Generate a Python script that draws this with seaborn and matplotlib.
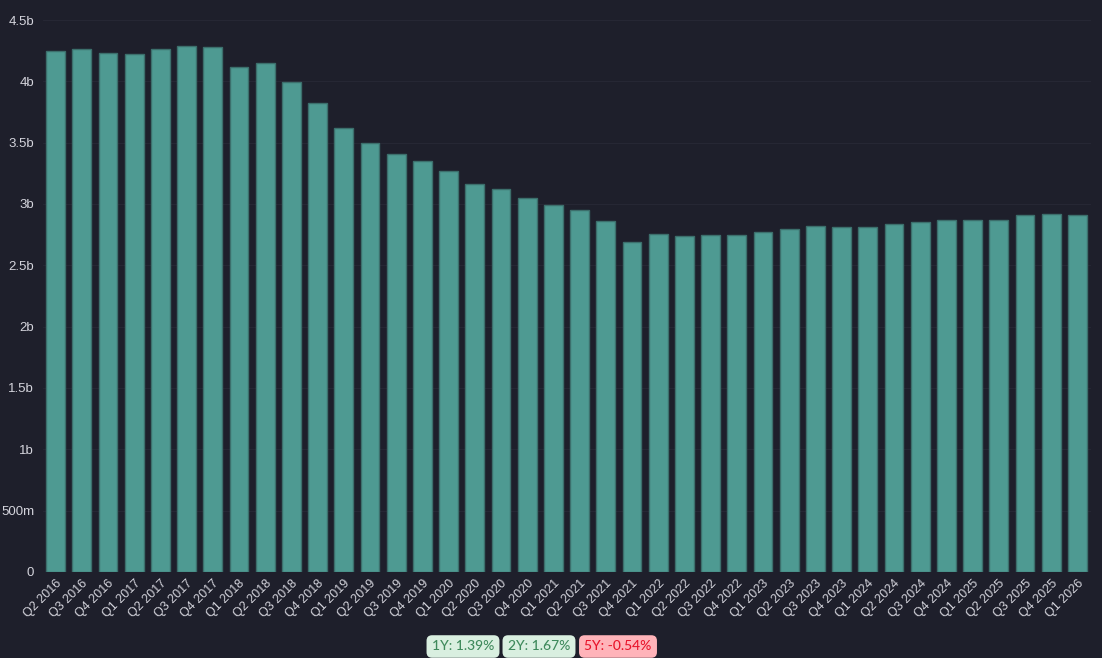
import matplotlib
matplotlib.use("Agg")
import matplotlib.pyplot as plt
import seaborn as sns
import pandas as pd
from matplotlib.ticker import FuncFormatter

# quarterly values, in billions
quarters = ["Q2 2016", "Q3 2016", "Q4 2016",
            "Q1 2017", "Q2 2017", "Q3 2017", "Q4 2017",
            "Q1 2018", "Q2 2018", "Q3 2018", "Q4 2018",
            "Q1 2019", "Q2 2019", "Q3 2019", "Q4 2019",
            "Q1 2020", "Q2 2020", "Q3 2020", "Q4 2020",
            "Q1 2021", "Q2 2021", "Q3 2021", "Q4 2021",
            "Q1 2022", "Q2 2022", "Q3 2022", "Q4 2022",
            "Q1 2023", "Q2 2023", "Q3 2023", "Q4 2023",
            "Q1 2024", "Q2 2024", "Q3 2024", "Q4 2024",
            "Q1 2025", "Q2 2025", "Q3 2025", "Q4 2025",
            "Q1 2026"]
values_b = [4.244, 4.26, 4.23, 4.22, 4.26, 4.287, 4.28,
            4.12, 4.146, 3.996, 3.82,
            3.616, 3.50, 3.407, 3.347,
            3.268, 3.16, 3.124, 3.05,
            2.988, 2.948, 2.858, 2.69,
            2.752, 2.738, 2.744, 2.744,
            2.774, 2.793, 2.82, 2.814,
            2.814, 2.834, 2.85, 2.866,
            2.871, 2.869, 2.91, 2.92,
            2.912]
badge_labels = ["1Y: 1.39%", "2Y: 1.67%", "5Y: -0.54%"]
badge_good = [True, True, False]

bg = "#1e1f2b"
bar_color = "#4e9a92"
text_color = "#d4d4dc"

sns.set_theme(style="dark")
plt.rcParams["font.family"] = ["Liberation Sans", "DejaVu Sans"]

df = pd.DataFrame({"quarter": quarters, "value": [v * 1e9 for v in values_b]})

fig = plt.figure(figsize=(11.02, 6.58), dpi=100, facecolor=bg)
ax = fig.add_axes([42.5 / 1102, 1 - 572 / 658, 1048 / 1102, 552 / 658])
ax.set_facecolor(bg)

sns.barplot(data=df, x="quarter", y="value", color=bar_color, saturation=1,
            width=0.72, edgecolor="#3c6f6c", linewidth=1, ax=ax)

ax.set_ylim(0, 4.5e9)
ax.set_xlim(-0.5, len(quarters) - 0.5)
ax.set_yticks([i * 0.5e9 for i in range(10)])


def fmt(v, pos):
    if v == 0:
        return "0"
    if v < 1e9:
        return f"{v / 1e6:g}m"
    return f"{v / 1e9:g}b"


ax.yaxis.set_major_formatter(FuncFormatter(fmt))
ax.grid(axis="y", color="#262734", linewidth=0.8)
ax.set_axisbelow(True)
ax.set_xlabel("")
ax.set_ylabel("")
for s in ax.spines.values():
    s.set_visible(False)
ax.tick_params(axis="y", length=0, pad=6, labelsize=9.5, colors=text_color)
ax.tick_params(axis="x", length=0, pad=4, labelsize=9, colors=text_color)
plt.setp(ax.get_xticklabels(), rotation=45, ha="right", rotation_mode="anchor")

# change badges below the chart
badge_x = [463, 539, 618]
for label, good, bx in zip(badge_labels, badge_good, badge_x):
    fc = "#d9efe0" if good else "#ffb3b9"
    tc = "#3f8a5c" if good else "#e8142b"
    fig.text(bx / 1102, 1 - 646.5 / 658, label, ha="center", va="center",
             fontsize=10, color=tc, family=["Lato", "DejaVu Sans"], weight="medium",
             bbox=dict(boxstyle="round,pad=0.38,rounding_size=0.4", fc=fc, ec="none"))

fig.savefig("out.png", dpi=100, facecolor=bg)
